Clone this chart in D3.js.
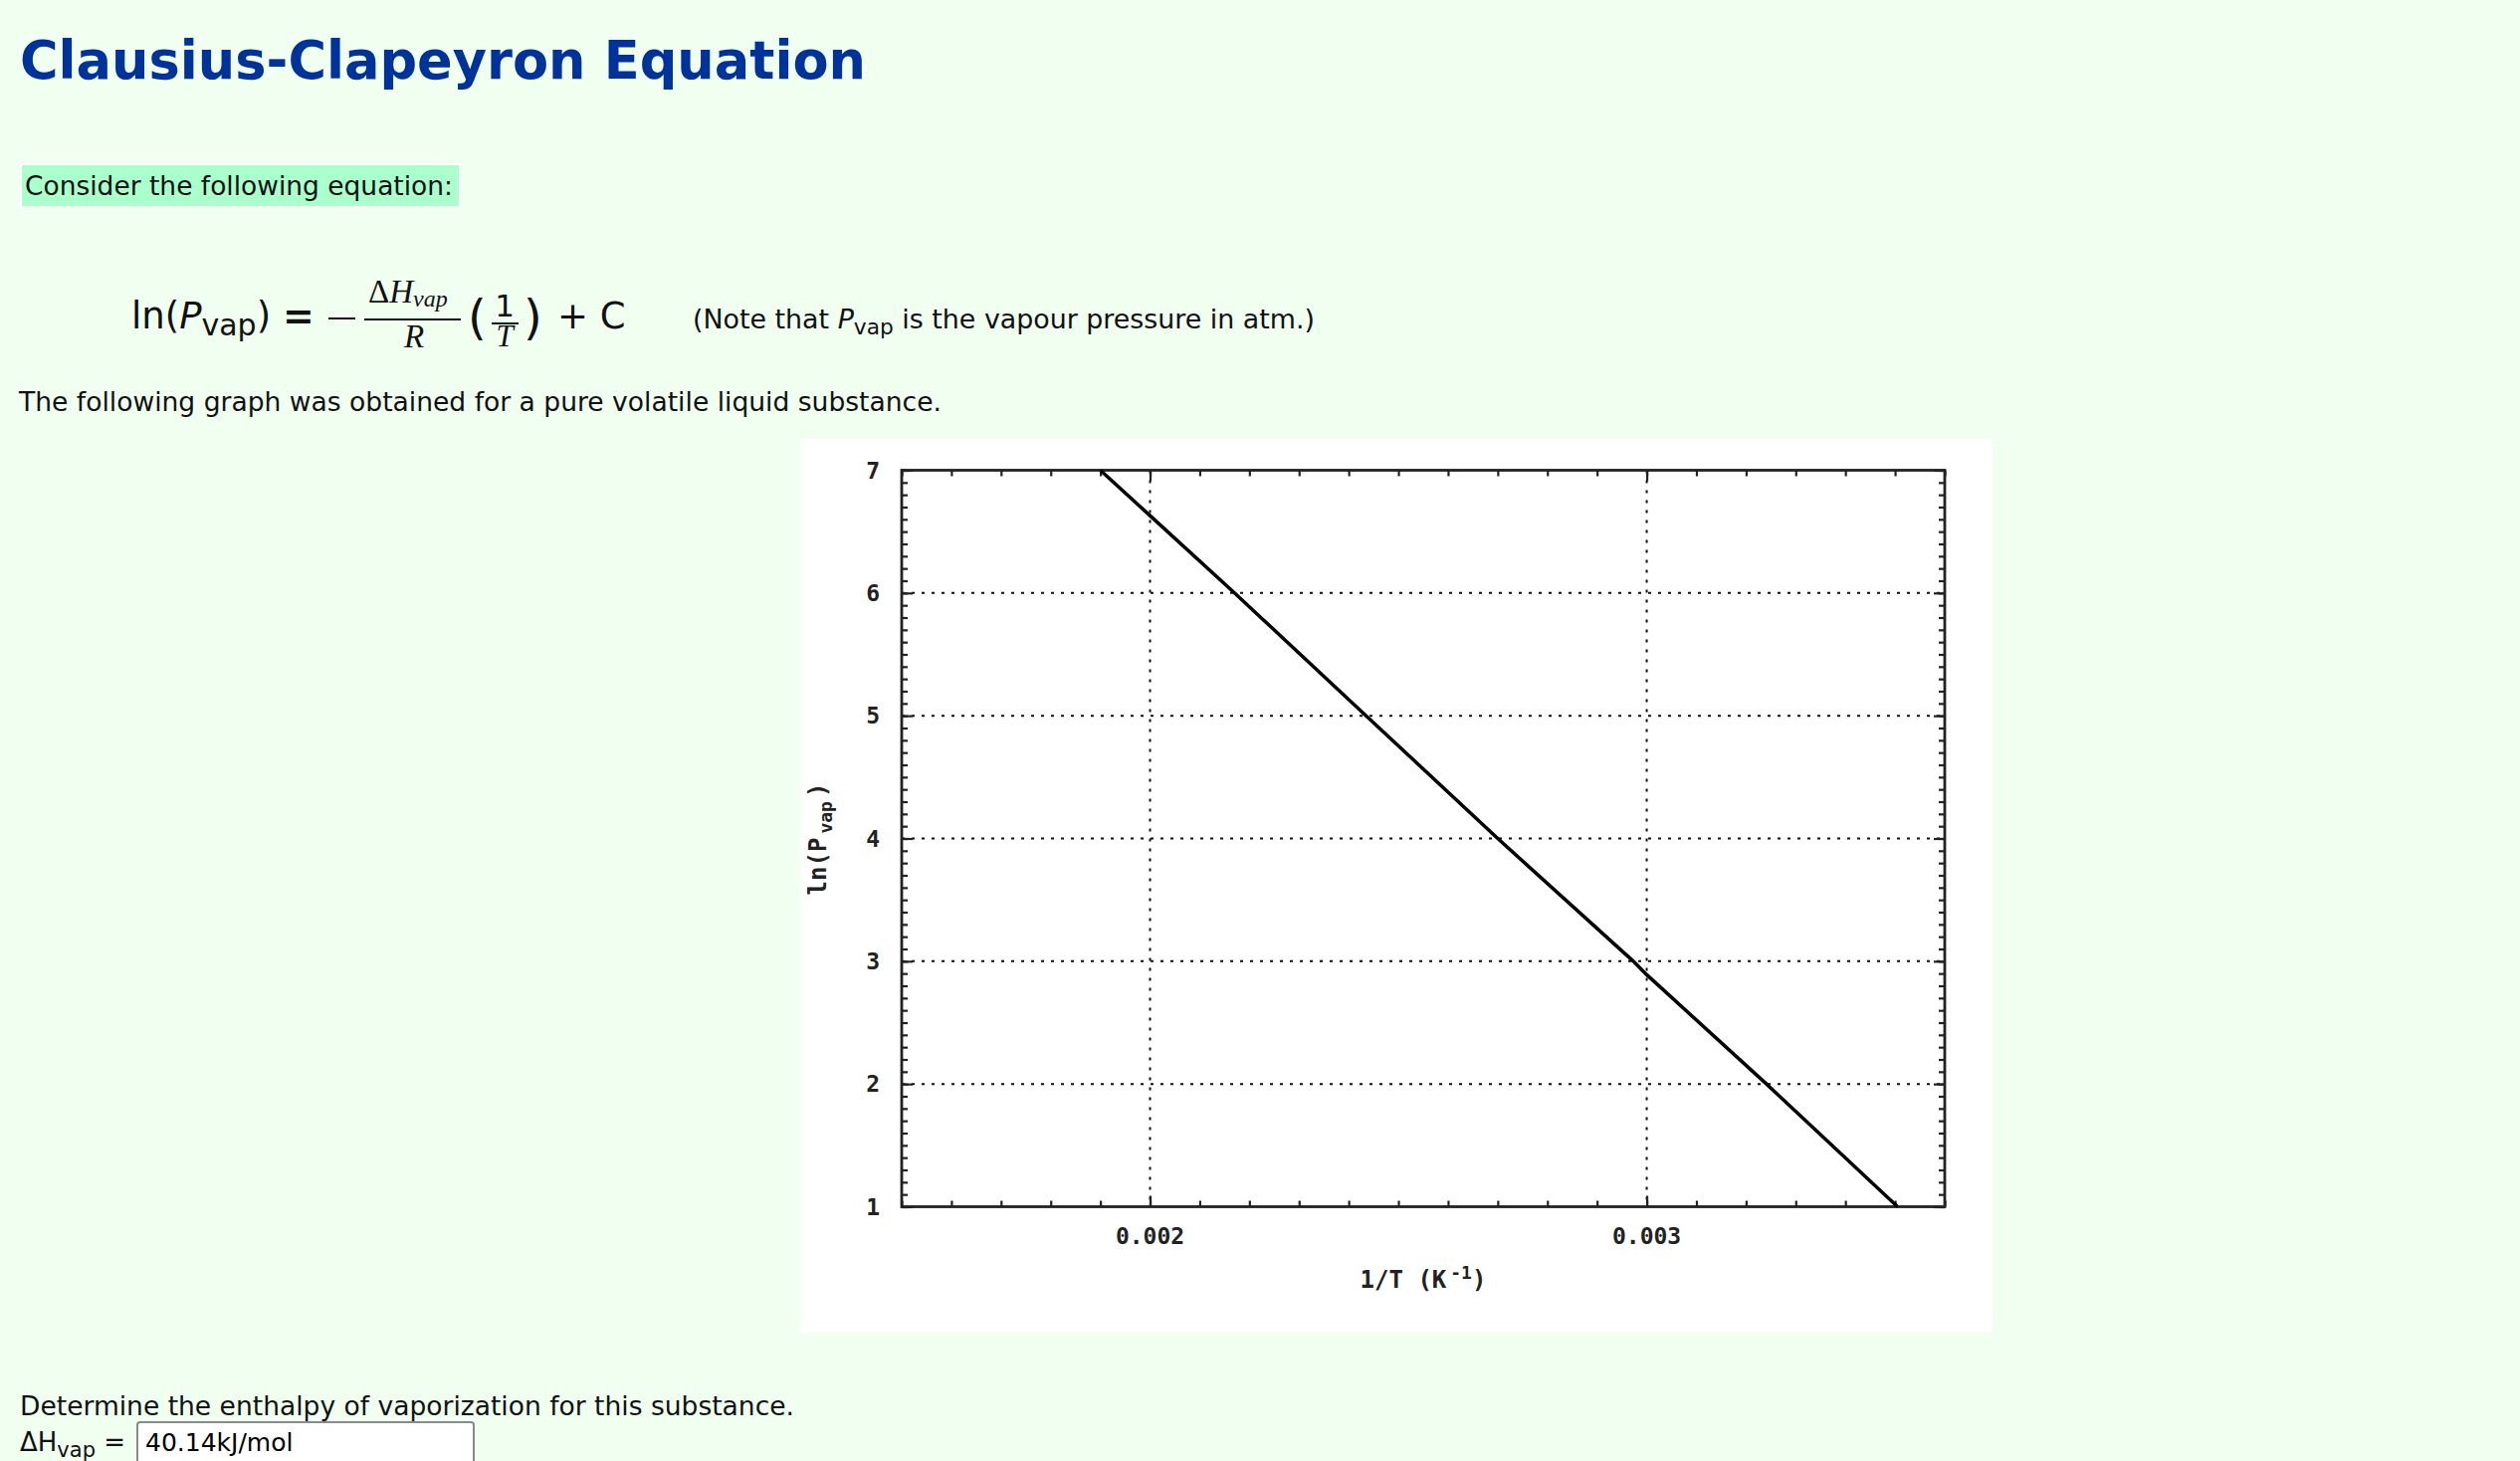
<!DOCTYPE html>
<html>
<head>
<meta charset="utf-8">
<script src="https://cdn.jsdelivr.net/npm/d3@7"></script>
<style>
  html, body { margin: 0; padding: 0; background: #f0fff0; }
  svg text { font-family: "DejaVu Sans", Verdana, sans-serif; }
  .mono { font-family: "DejaVu Sans Mono", monospace; font-weight: bold; fill: #222; }
  .serif { font-family: "Liberation Serif", "DejaVu Serif", serif; font-style: italic; }
</style>
</head>
<body>
<script>
// data
var invT = [0.0019, 0.002, 0.00217, 0.002435, 0.0027, 0.002973, 0.003, 0.003241, 0.003505];
var lnP  = [7, 6.63, 6, 5, 4, 3, 2.89, 2, 1];
var xTicks = [0.002, 0.003];
var xTickLabels = ["0.002", "0.003"];
var yTicks = [1, 2, 3, 4, 5, 6, 7];
var xDomain = [0.0015, 0.0036];
var yDomain = [1, 7];

var W = 2532, H = 1468;

var svg = d3.select("body").append("svg")
    .attr("width", W)
    .attr("height", H);

svg.append("rect").attr("width", W).attr("height", H).attr("fill", "#f0fff0");

// title
svg.append("text")
   .attr("x", 20).attr("y", 79)
   .attr("font-size", 54).attr("font-weight", "bold")
   .attr("fill", "#003399")
   .attr("textLength", 850).attr("lengthAdjust", "spacingAndGlyphs")
   .text("Clausius-Clapeyron Equation");

// green box
svg.append("rect")
   .attr("x", 21).attr("y", 165).attr("width", 441).attr("height", 43)
   .attr("fill", "#aaffcc").attr("stroke", "#ffffff").attr("stroke-width", 2);
svg.append("text")
   .attr("x", 25).attr("y", 196)
   .attr("font-size", 26).attr("fill", "#111")
   .attr("textLength", 430).attr("lengthAdjust", "spacingAndGlyphs")
   .text("Consider the following equation:");

// equation
var eq = svg.append("g").attr("fill", "#111");
var t1 = eq.append("text").attr("x", 132).attr("y", 330).attr("font-size", 37);
t1.append("tspan").text("ln(");
t1.append("tspan").attr("font-style", "italic").text("P");
t1.append("tspan").attr("font-size", 30).attr("dy", 7).text("vap");
t1.append("tspan").attr("dy", -7).text(")");
eq.append("text").attr("x", 284).attr("y", 330).attr("font-size", 38).attr("font-weight", "bold").text("=");
eq.append("line").attr("x1", 330).attr("x2", 357).attr("y1", 320).attr("y2", 320)
   .attr("stroke", "#111").attr("stroke-width", 2);
var num = eq.append("text").attr("class", "serif").attr("x", 370).attr("y", 304).attr("font-size", 33);
num.append("tspan").attr("font-style", "normal").text("\u0394");
num.append("tspan").text("H");
num.append("tspan").attr("font-size", 24).attr("dy", 4).text("vap");
eq.append("line").attr("x1", 366).attr("x2", 463).attr("y1", 321).attr("y2", 321)
   .attr("stroke", "#111").attr("stroke-width", 2);
eq.append("text").attr("class", "serif").attr("x", 416).attr("y", 349)
   .attr("font-size", 33).attr("text-anchor", "middle").text("R");
eq.append("text").attr("x", 470).attr("y", 336).attr("font-size", 48)
   .attr("font-family", "Liberation Serif, serif").text("(");
eq.append("text").attr("x", 507).attr("y", 318).attr("font-size", 31)
   .attr("font-family", "Liberation Serif, serif").attr("text-anchor", "middle").text("1");
eq.append("line").attr("x1", 494).attr("x2", 521).attr("y1", 325).attr("y2", 325)
   .attr("stroke", "#111").attr("stroke-width", 2);
eq.append("text").attr("class", "serif").attr("x", 507).attr("y", 348)
   .attr("font-size", 31).attr("text-anchor", "middle").text("T");
eq.append("text").attr("x", 526).attr("y", 336).attr("font-size", 48)
   .attr("font-family", "Liberation Serif, serif").text(")");
eq.append("text").attr("x", 560).attr("y", 330).attr("font-size", 37).text("+ C");

var note = eq.append("text").attr("x", 696).attr("y", 330).attr("font-size", 26)
   .attr("textLength", 625).attr("lengthAdjust", "spacingAndGlyphs");
note.append("tspan").text("(Note that ");
note.append("tspan").attr("font-style", "italic").text("P");
note.append("tspan").attr("font-size", 21).attr("dy", 6).text("vap");
note.append("tspan").attr("dy", -6).text(" is the vapour pressure in atm.)");

svg.append("text")
   .attr("x", 19).attr("y", 413)
   .attr("font-size", 26).attr("fill", "#111")
   .attr("textLength", 927).attr("lengthAdjust", "spacingAndGlyphs")
   .text("The following graph was obtained for a pure volatile liquid substance.");

// chart panel
svg.append("rect")
   .attr("x", 804).attr("y", 441).attr("width", 1198).attr("height", 898)
   .attr("fill", "#ffffff");

var pLeft = 906, pRight = 1954, pTop = 472.5, pBottom = 1212.5;
var x = d3.scaleLinear().domain(xDomain).range([pLeft, pRight]);
var y = d3.scaleLinear().domain(yDomain).range([pBottom, pTop]);

var minorX = d3.range(15, 37).map(function(d) { return d / 10000; });
var minorY = d3.range(10, 71).map(function(d) { return d / 10; });

// grid (dotted)
var grid = svg.append("g").attr("stroke", "#111").attr("stroke-width", 2)
   .attr("stroke-dasharray", "3,7");
grid.selectAll("line.gx").data(xTicks).enter().append("line")
   .attr("x1", function(d) { return x(d); }).attr("x2", function(d) { return x(d); })
   .attr("y1", pTop).attr("y2", pBottom);
grid.selectAll("line.gy").data(yTicks.slice(1, -1)).enter().append("line")
   .attr("x1", pLeft).attr("x2", pRight)
   .attr("y1", function(d) { return y(d); }).attr("y2", function(d) { return y(d); });

function styleAxis(g) {
  g.select(".domain").remove();
  g.selectAll(".tick line").attr("stroke", "#222").attr("stroke-width", 2.2);
  g.selectAll("text").remove();
}

// minor ticks, inward on all four sides
svg.append("g").attr("transform", "translate(0," + pBottom + ")")
   .call(d3.axisBottom(x).tickValues(minorX).tickSize(-6)).call(styleAxis);
svg.append("g").attr("transform", "translate(0," + pTop + ")")
   .call(d3.axisTop(x).tickValues(minorX).tickSize(-6)).call(styleAxis);
svg.append("g").attr("transform", "translate(" + pLeft + ",0)")
   .call(d3.axisLeft(y).tickValues(minorY).tickSize(-6)).call(styleAxis);
svg.append("g").attr("transform", "translate(" + pRight + ",0)")
   .call(d3.axisRight(y).tickValues(minorY).tickSize(-6)).call(styleAxis);
// major ticks
svg.append("g").attr("transform", "translate(0," + pBottom + ")")
   .call(d3.axisBottom(x).tickValues(xTicks).tickSize(-11)).call(styleAxis);
svg.append("g").attr("transform", "translate(0," + pTop + ")")
   .call(d3.axisTop(x).tickValues(xTicks).tickSize(-11)).call(styleAxis);
svg.append("g").attr("transform", "translate(" + pLeft + ",0)")
   .call(d3.axisLeft(y).tickValues(yTicks).tickSize(-11)).call(styleAxis);
svg.append("g").attr("transform", "translate(" + pRight + ",0)")
   .call(d3.axisRight(y).tickValues(yTicks).tickSize(-11)).call(styleAxis);

// border
svg.append("rect")
   .attr("x", pLeft).attr("y", pTop).attr("width", pRight - pLeft).attr("height", pBottom - pTop)
   .attr("fill", "none").attr("stroke", "#222").attr("stroke-width", 2.8);

// tick labels
svg.selectAll("text.ylab").data(yTicks).enter().append("text")
   .attr("class", "mono ylab")
   .attr("x", 884).attr("y", function(d) { return y(d) + 8; })
   .attr("text-anchor", "end").attr("font-size", 23)
   .text(function(d) { return d; });
svg.selectAll("text.xlab").data(xTicks).enter().append("text")
   .attr("class", "mono xlab")
   .attr("x", function(d) { return x(d); }).attr("y", 1250)
   .attr("text-anchor", "middle").attr("font-size", 23)
   .text(function(d, i) { return xTickLabels[i]; });

// axis titles
var xt = svg.append("text").attr("class", "mono")
   .attr("x", 1430).attr("y", 1294).attr("text-anchor", "middle").attr("font-size", 24);
xt.append("tspan").text("1/T (K");
xt.append("tspan").attr("font-size", 18).attr("dy", -9).attr("dx", 4).text("-1");
xt.append("tspan").attr("dy", 9).text(")");

var yt = svg.append("text").attr("class", "mono")
   .attr("transform", "translate(830,843) rotate(-90)")
   .attr("text-anchor", "middle").attr("font-size", 24);
yt.append("tspan").text("ln(P");
yt.append("tspan").attr("font-size", 18).attr("dy", 6).attr("dx", 4).text("vap");
yt.append("tspan").attr("dy", -6).attr("dx", 4).text(")");

// the line
var line = d3.line()
   .x(function(d) { return x(d[0]); })
   .y(function(d) { return y(d[1]); });
svg.append("path")
   .datum(d3.zip(invT, lnP))
   .attr("d", line)
   .attr("fill", "none").attr("stroke", "#000").attr("stroke-width", 3.5);

// question
svg.append("text")
   .attr("x", 20).attr("y", 1422)
   .attr("font-size", 26).attr("fill", "#111")
   .attr("textLength", 778).attr("lengthAdjust", "spacingAndGlyphs")
   .text("Determine the enthalpy of vaporization for this substance.");
var ans = svg.append("text").attr("x", 20).attr("y", 1458).attr("font-size", 26).attr("fill", "#111");
ans.append("tspan").text("\u0394H");
ans.append("tspan").attr("font-size", 21).attr("dy", 6).text("vap");
ans.append("tspan").attr("dy", -6).text(" =");

svg.append("rect")
   .attr("x", 138).attr("y", 1429).attr("width", 338).attr("height", 50).attr("rx", 3)
   .attr("fill", "#ffffff").attr("stroke", "#8a8a8a").attr("stroke-width", 2);
svg.append("text")
   .attr("x", 146).attr("y", 1458)
   .attr("font-family", "Liberation Sans, Arial, sans-serif").attr("font-size", 25)
   .attr("fill", "#000")
   .text("40.14kJ/mol");
</script>
</body>
</html>
